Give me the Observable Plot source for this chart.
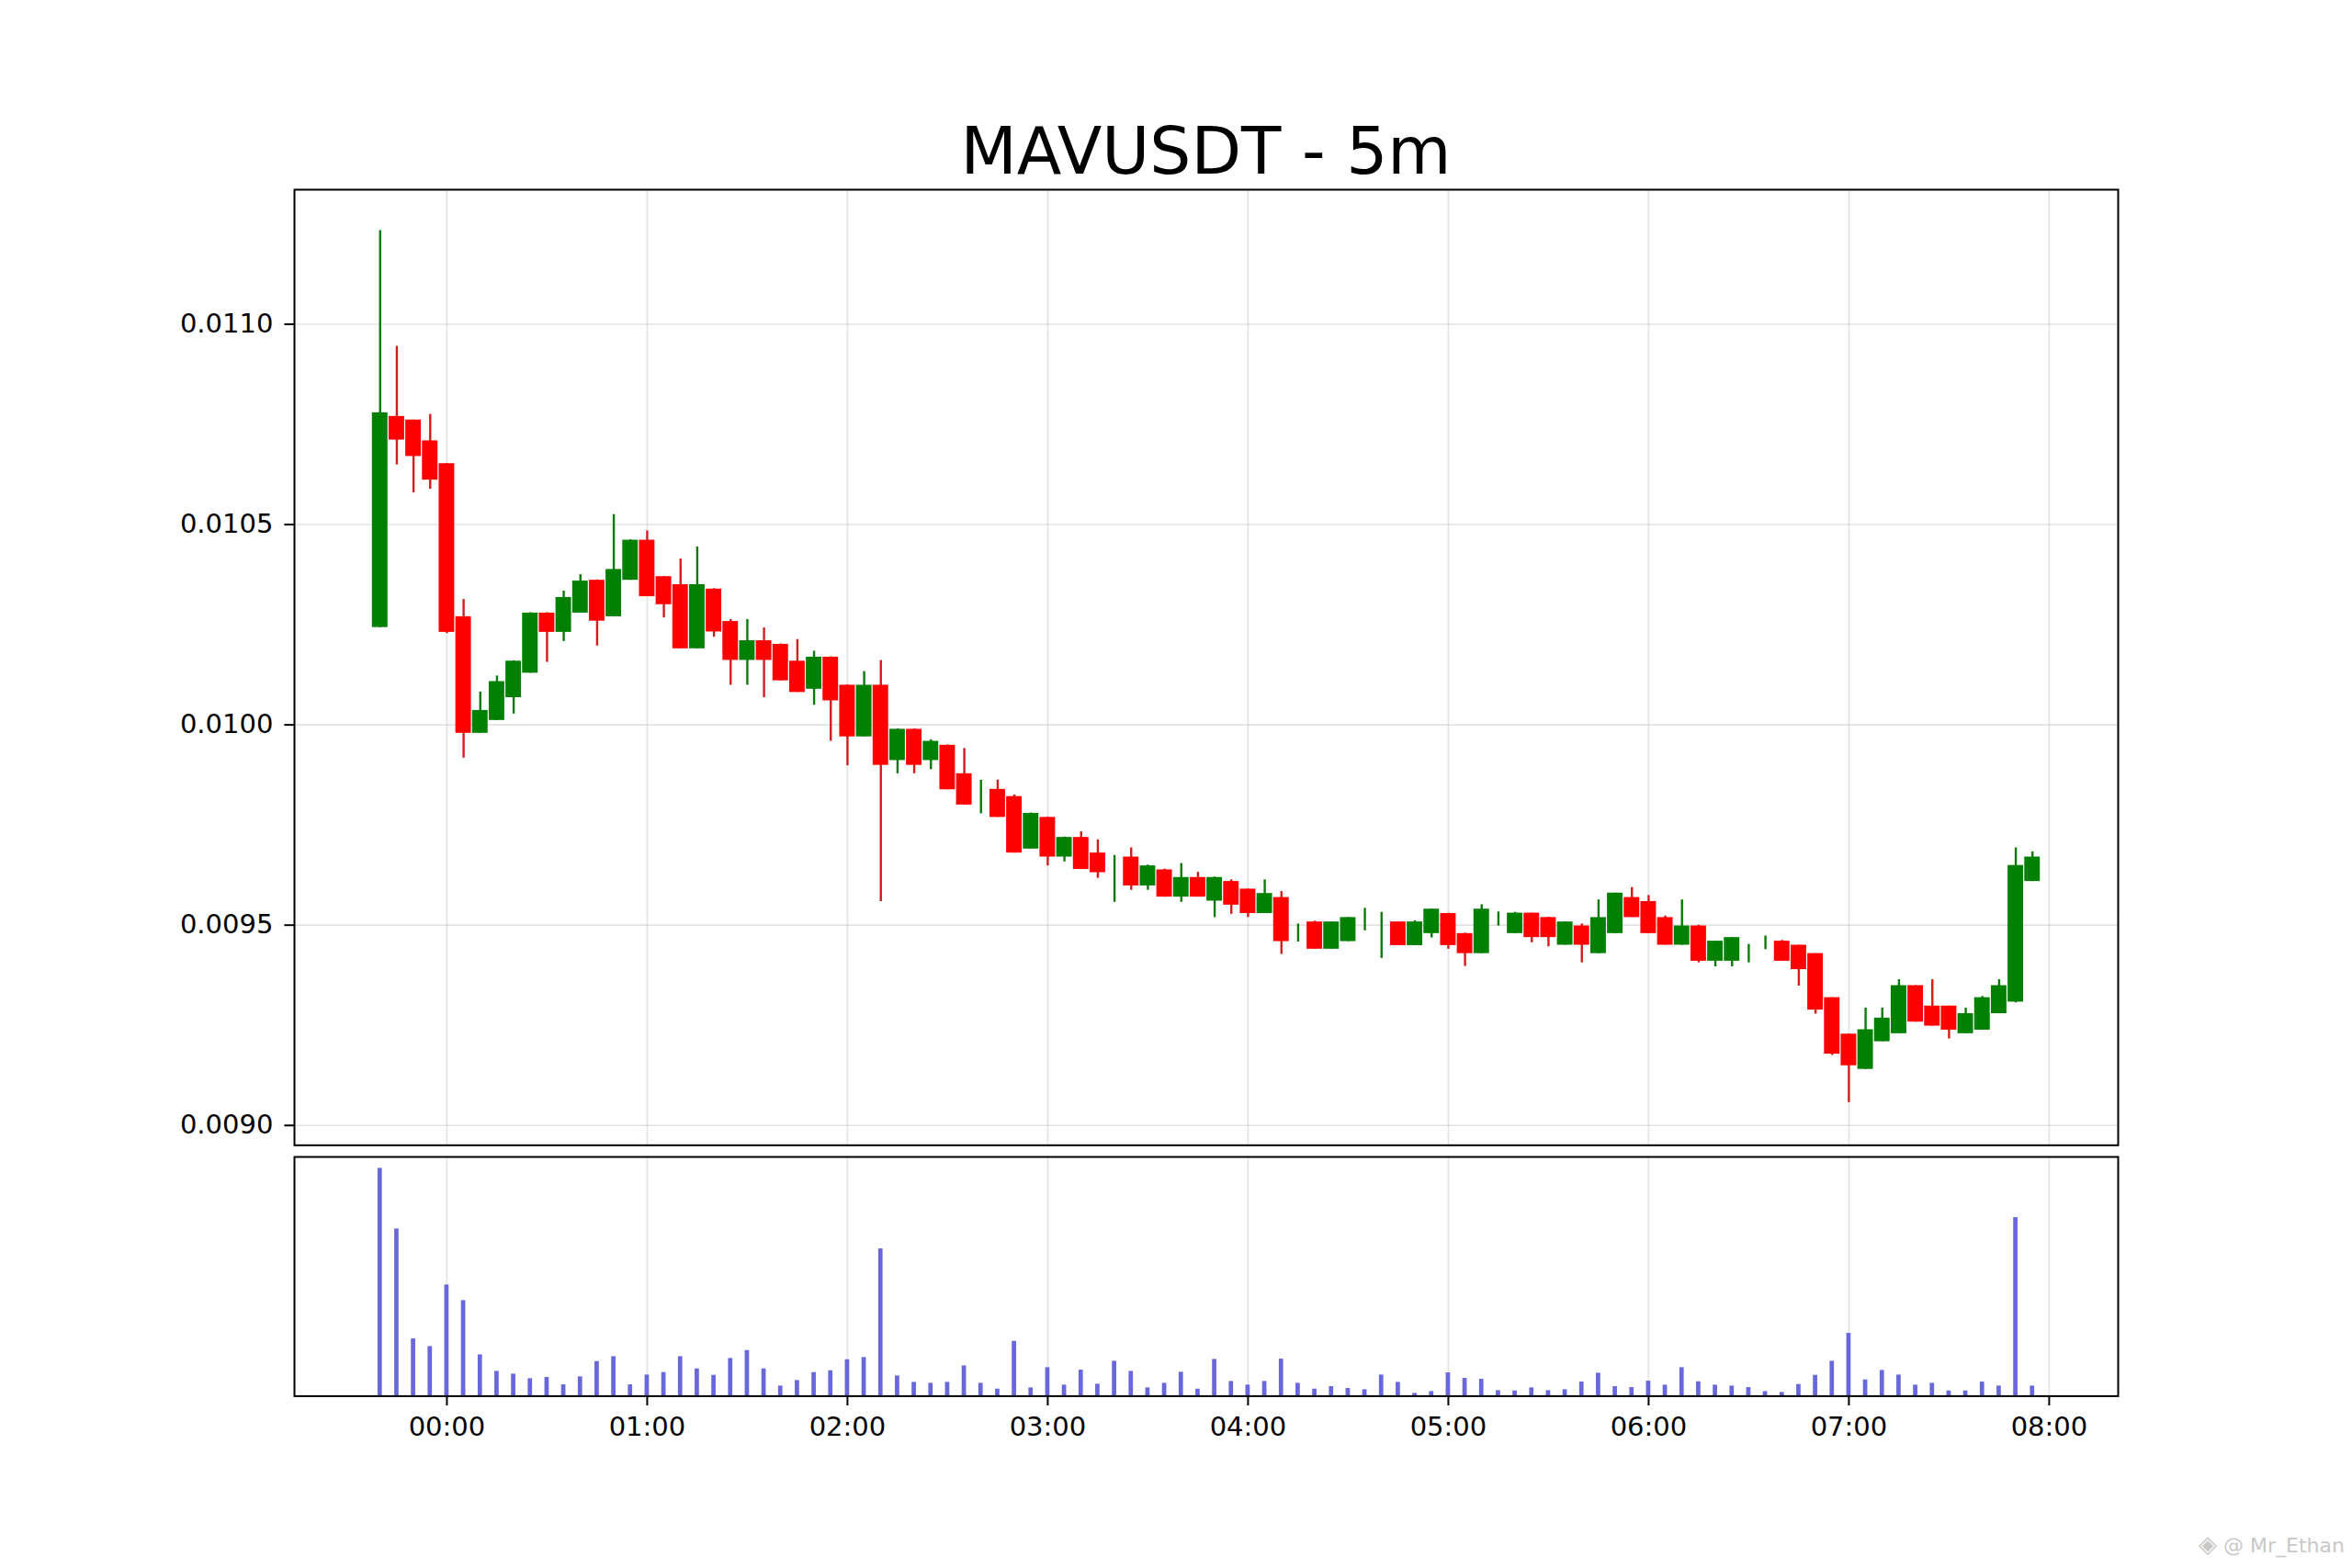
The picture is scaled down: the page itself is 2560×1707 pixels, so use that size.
<!DOCTYPE html>
<html>
<head>
<meta charset="utf-8">
<script src="https://cdn.jsdelivr.net/npm/d3@7"></script>
<script src="https://cdn.jsdelivr.net/npm/@observablehq/plot@0.6"></script>
<style>
  html, body { margin: 0; padding: 0; background: #ffffff; }
  #page { position: relative; width: 2560px; height: 1707px; background: #ffffff; overflow: hidden; font-family: "DejaVu Sans", sans-serif; }
  #title { position: absolute; left: 320px; width: 1985px; top: 129px; height: 71px; line-height: 71px; font-size: 71px; text-align: center; color: #000; white-space: nowrap; }
  #price { position: absolute; left: 0; top: 200px; }
  #volume { position: absolute; left: 0; top: 1252px; }
  #mark { position: absolute; right: 8px; top: 1670px; line-height: 22px; font-size: 22px; color: #c8c8c8; white-space: nowrap; }
</style>
</head>
<body>
<div id="page">
  <div id="title">MAVUSDT - 5m</div>
  <div id="price"></div>
  <div id="volume"></div>
  <div id="mark"><span style="font-size:26px">◈</span> @ Mr_Ethan</div>
</div>
<script>
// ---- data ----
const times = ["23:40","23:45","23:50","23:55",
  "00:00","00:05","00:10","00:15","00:20","00:25","00:30","00:35","00:40","00:45","00:50","00:55",
  "01:00","01:05","01:10","01:15","01:20","01:25","01:30","01:35","01:40","01:45","01:50","01:55",
  "02:00","02:05","02:10","02:15","02:20","02:25","02:30","02:35","02:40","02:45","02:50","02:55",
  "03:00","03:05","03:10","03:15","03:20","03:25","03:30","03:35","03:40","03:45","03:50","03:55",
  "04:00","04:05","04:10","04:15","04:20","04:25","04:30","04:35","04:40","04:45","04:50","04:55",
  "05:00","05:05","05:10","05:15","05:20","05:25","05:30","05:35","05:40","05:45","05:50","05:55",
  "06:00","06:05","06:10","06:15","06:20","06:25","06:30","06:35","06:40","06:45","06:50","06:55",
  "07:00","07:05","07:10","07:15","07:20","07:25","07:30","07:35","07:40","07:45","07:50","07:55"];

const opens = [0.010243,0.010770,0.010761,0.010709,0.010652,0.010270,0.009979,0.010011,0.010068,0.010129,
  0.010279,0.010231,0.010279,0.010361,0.010270,0.010361,0.010461,0.010370,0.010350,0.010190,
  0.010339,0.010258,0.010161,0.010210,0.010201,0.010159,0.010089,0.010169,0.010099,0.009970,
  0.010099,0.009911,0.009989,0.009911,0.009949,0.009878,0.009815,0.009839,0.009821,0.009690,
  0.009769,0.009670,0.009719,0.009680,0.009610,0.009670,0.009598,0.009638,0.009570,0.009619,
  0.009560,0.009609,0.009590,0.009529,0.009569,0.009480,0.009508,0.009440,0.009459,0.009510,
  0.009470,0.009508,0.009449,0.009479,0.009529,0.009479,0.009429,0.009515,0.009479,0.009530,
  0.009519,0.009450,0.009498,0.009429,0.009479,0.009569,0.009559,0.009519,0.009450,0.009498,
  0.009410,0.009410,0.009430,0.009455,0.009460,0.009450,0.009429,0.009319,0.009228,0.009140,
  0.009209,0.009229,0.009349,0.009298,0.009298,0.009229,0.009238,0.009279,0.009308,0.009609];

const highs = [0.011234,0.010945,0.010761,0.010775,0.010652,0.010313,0.010082,0.010122,0.010160,0.010280,
  0.010280,0.010334,0.010375,0.010362,0.010525,0.010462,0.010484,0.010370,0.010414,0.010444,
  0.010340,0.010263,0.010263,0.010242,0.010202,0.010213,0.010184,0.010170,0.010100,0.010133,
  0.010161,0.009990,0.009990,0.009963,0.009950,0.009941,0.009862,0.009862,0.009825,0.009780,
  0.009770,0.009720,0.009733,0.009713,0.009674,0.009693,0.009650,0.009640,0.009654,0.009632,
  0.009620,0.009613,0.009590,0.009613,0.009584,0.009503,0.009510,0.009508,0.009519,0.009542,
  0.009532,0.009508,0.009511,0.009540,0.009530,0.009480,0.009551,0.009533,0.009532,0.009530,
  0.009520,0.009508,0.009503,0.009563,0.009580,0.009594,0.009574,0.009523,0.009563,0.009500,
  0.009460,0.009469,0.009452,0.009473,0.009462,0.009450,0.009429,0.009319,0.009228,0.009293,
  0.009293,0.009364,0.009349,0.009364,0.009298,0.009293,0.009322,0.009364,0.009693,0.009683];

const lows = [0.010243,0.010649,0.010579,0.010588,0.010228,0.009917,0.009979,0.010011,0.010027,0.010129,
  0.010156,0.010208,0.010279,0.010197,0.010270,0.010361,0.010320,0.010267,0.010190,0.010190,
  0.010219,0.010099,0.010099,0.010068,0.010110,0.010081,0.010049,0.009959,0.009898,0.009970,
  0.009559,0.009878,0.009878,0.009888,0.009838,0.009800,0.009778,0.009769,0.009680,0.009690,
  0.009648,0.009658,0.009639,0.009617,0.009557,0.009587,0.009587,0.009570,0.009557,0.009570,
  0.009519,0.009527,0.009519,0.009529,0.009427,0.009458,0.009440,0.009440,0.009459,0.009486,
  0.009417,0.009449,0.009449,0.009468,0.009440,0.009397,0.009429,0.009498,0.009479,0.009456,
  0.009446,0.009450,0.009406,0.009429,0.009479,0.009519,0.009479,0.009450,0.009450,0.009406,
  0.009396,0.009396,0.009406,0.009439,0.009410,0.009348,0.009278,0.009175,0.009057,0.009140,
  0.009209,0.009229,0.009258,0.009248,0.009216,0.009229,0.009238,0.009279,0.009306,0.009609];

const closes = [0.010779,0.010711,0.010670,0.010611,0.010231,0.009979,0.010036,0.010108,0.010159,0.010279,
  0.010231,0.010318,0.010359,0.010259,0.010388,0.010461,0.010320,0.010300,0.010190,0.010350,
  0.010232,0.010161,0.010210,0.010161,0.010110,0.010081,0.010169,0.010060,0.009970,0.010099,
  0.009899,0.009989,0.009899,0.009959,0.009838,0.009800,0.009815,0.009769,0.009680,0.009779,
  0.009670,0.009719,0.009639,0.009631,0.009610,0.009598,0.009648,0.009570,0.009619,0.009570,
  0.009619,0.009550,0.009529,0.009579,0.009459,0.009480,0.009440,0.009508,0.009519,0.009510,
  0.009470,0.009449,0.009508,0.009540,0.009449,0.009429,0.009540,0.009515,0.009530,0.009469,
  0.009469,0.009508,0.009450,0.009519,0.009580,0.009519,0.009479,0.009450,0.009498,0.009410,
  0.009460,0.009469,0.009430,0.009455,0.009410,0.009389,0.009288,0.009178,0.009149,0.009239,
  0.009268,0.009349,0.009258,0.009248,0.009238,0.009279,0.009319,0.009349,0.009649,0.009670];

// volume (thousands, relative heights)
const volumes = [744,546,187,162,363,312,135,81,72,57,61,37,63,113,129,37,69,77,129,89,
  68,123,149,89,33,51,77,83,119,126,481,66,45,42,45,99,42,23,179,27,
  93,36,85,39,114,81,27,42,78,23,120,48,36,48,121,42,23,31,25,21,
  69,45,9,15,76,58,55,18,17,27,18,21,46,75,31,28,49,36,93,47,
  36,33,28,15,12,38,68,114,205,53,84,69,36,42,17,17,46,33,583,33];

const xTickLabels = ["00:00","01:00","02:00","03:00","04:00","05:00","06:00","07:00","08:00"];
const xDomainLabels = ["23:14:20","08:20:40"];
const priceTicks = [0.0090,0.0095,0.0100,0.0105,0.0110];
const priceDomain = [0.0089505,0.011336];

// ---- helpers ----
const BASE = Date.UTC(2023, 0, 1);
function toDate(s) {
  const p = s.split(":").map(Number);
  const day = p[0] >= 12 ? 0 : 1;
  return new Date(BASE + day * 86400000 + ((p[0] * 60 + p[1]) * 60 + (p[2] || 0)) * 1000);
}
const MIN = 60000;
const rows = times.map((t, i) => ({
  t: toDate(t), o: opens[i], h: highs[i], l: lows[i], c: closes[i], v: volumes[i],
  up: closes[i] >= opens[i]
}));
const xTicks = xTickLabels.map(toDate);
const xDomain = xDomainLabels.map(toDate);

const GREEN = "#008000", RED = "#ff0000";
const GREEN_WICK = "#0b7a0b", RED_WICK = "#d41c1c";
const GRID = {stroke: "#b0b0b0", strokeOpacity: 0.35, strokeWidth: 1.6};
const fmtTime = d3.utcFormat("%H:%M");

// ---- price panel ----
const price = Plot.plot({
  width: 2560, height: 1052,
  marginLeft: 320, marginRight: 255, marginTop: 6, marginBottom: 5.7,
  style: {fontFamily: "DejaVu Sans", fontSize: "29px", color: "#000", background: "transparent"},
  x: {type: "utc", domain: xDomain, axis: null},
  y: {domain: priceDomain, axis: null},
  marks: [
    Plot.gridX(xTicks, GRID),
    Plot.gridY(priceTicks, GRID),
    Plot.ruleX(rows, {x: "t", y1: "l", y2: "h", stroke: d => d.up ? GREEN_WICK : RED_WICK, strokeWidth: 2.4}),
    Plot.rect(rows, {
      x1: d => new Date(+d.t - 2.33 * MIN), x2: d => new Date(+d.t + 2.33 * MIN),
      y1: "o", y2: "c", fill: d => d.up ? GREEN : RED
    }),
    Plot.axisY(priceTicks, {anchor: "left", tickSize: 10.6, tickPadding: 12.5, tickFormat: d3.format(".4f"),
      fontSize: 29, strokeWidth: 2, label: null}),
    Plot.frame({stroke: "#000", strokeWidth: 2})
  ]
});
document.getElementById("price").appendChild(price);

// ---- volume panel ----
const vmax = d3.max(volumes);
const volume = Plot.plot({
  width: 2560, height: 348,
  marginLeft: 320, marginRight: 255, marginTop: 7, marginBottom: 80.6,
  style: {fontFamily: "DejaVu Sans", fontSize: "29px", color: "#000", background: "transparent"},
  x: {type: "utc", domain: xDomain, axis: null},
  y: {domain: [0, vmax * 1.05], axis: null},
  marks: [
    Plot.gridX(xTicks, GRID),
    Plot.rect(rows, {
      x1: d => new Date(+d.t - 0.65 * MIN), x2: d => new Date(+d.t + 0.65 * MIN),
      y1: 0, y2: "v", fill: "#6868dc"
    }),
    Plot.axisX(xTicks, {anchor: "bottom", tickSize: 10.6, tickPadding: 12, tickFormat: fmtTime,
      fontSize: 29, strokeWidth: 2, label: null}),
    Plot.frame({stroke: "#000", strokeWidth: 2})
  ]
});
document.getElementById("volume").appendChild(volume);
</script>
</body>
</html>
